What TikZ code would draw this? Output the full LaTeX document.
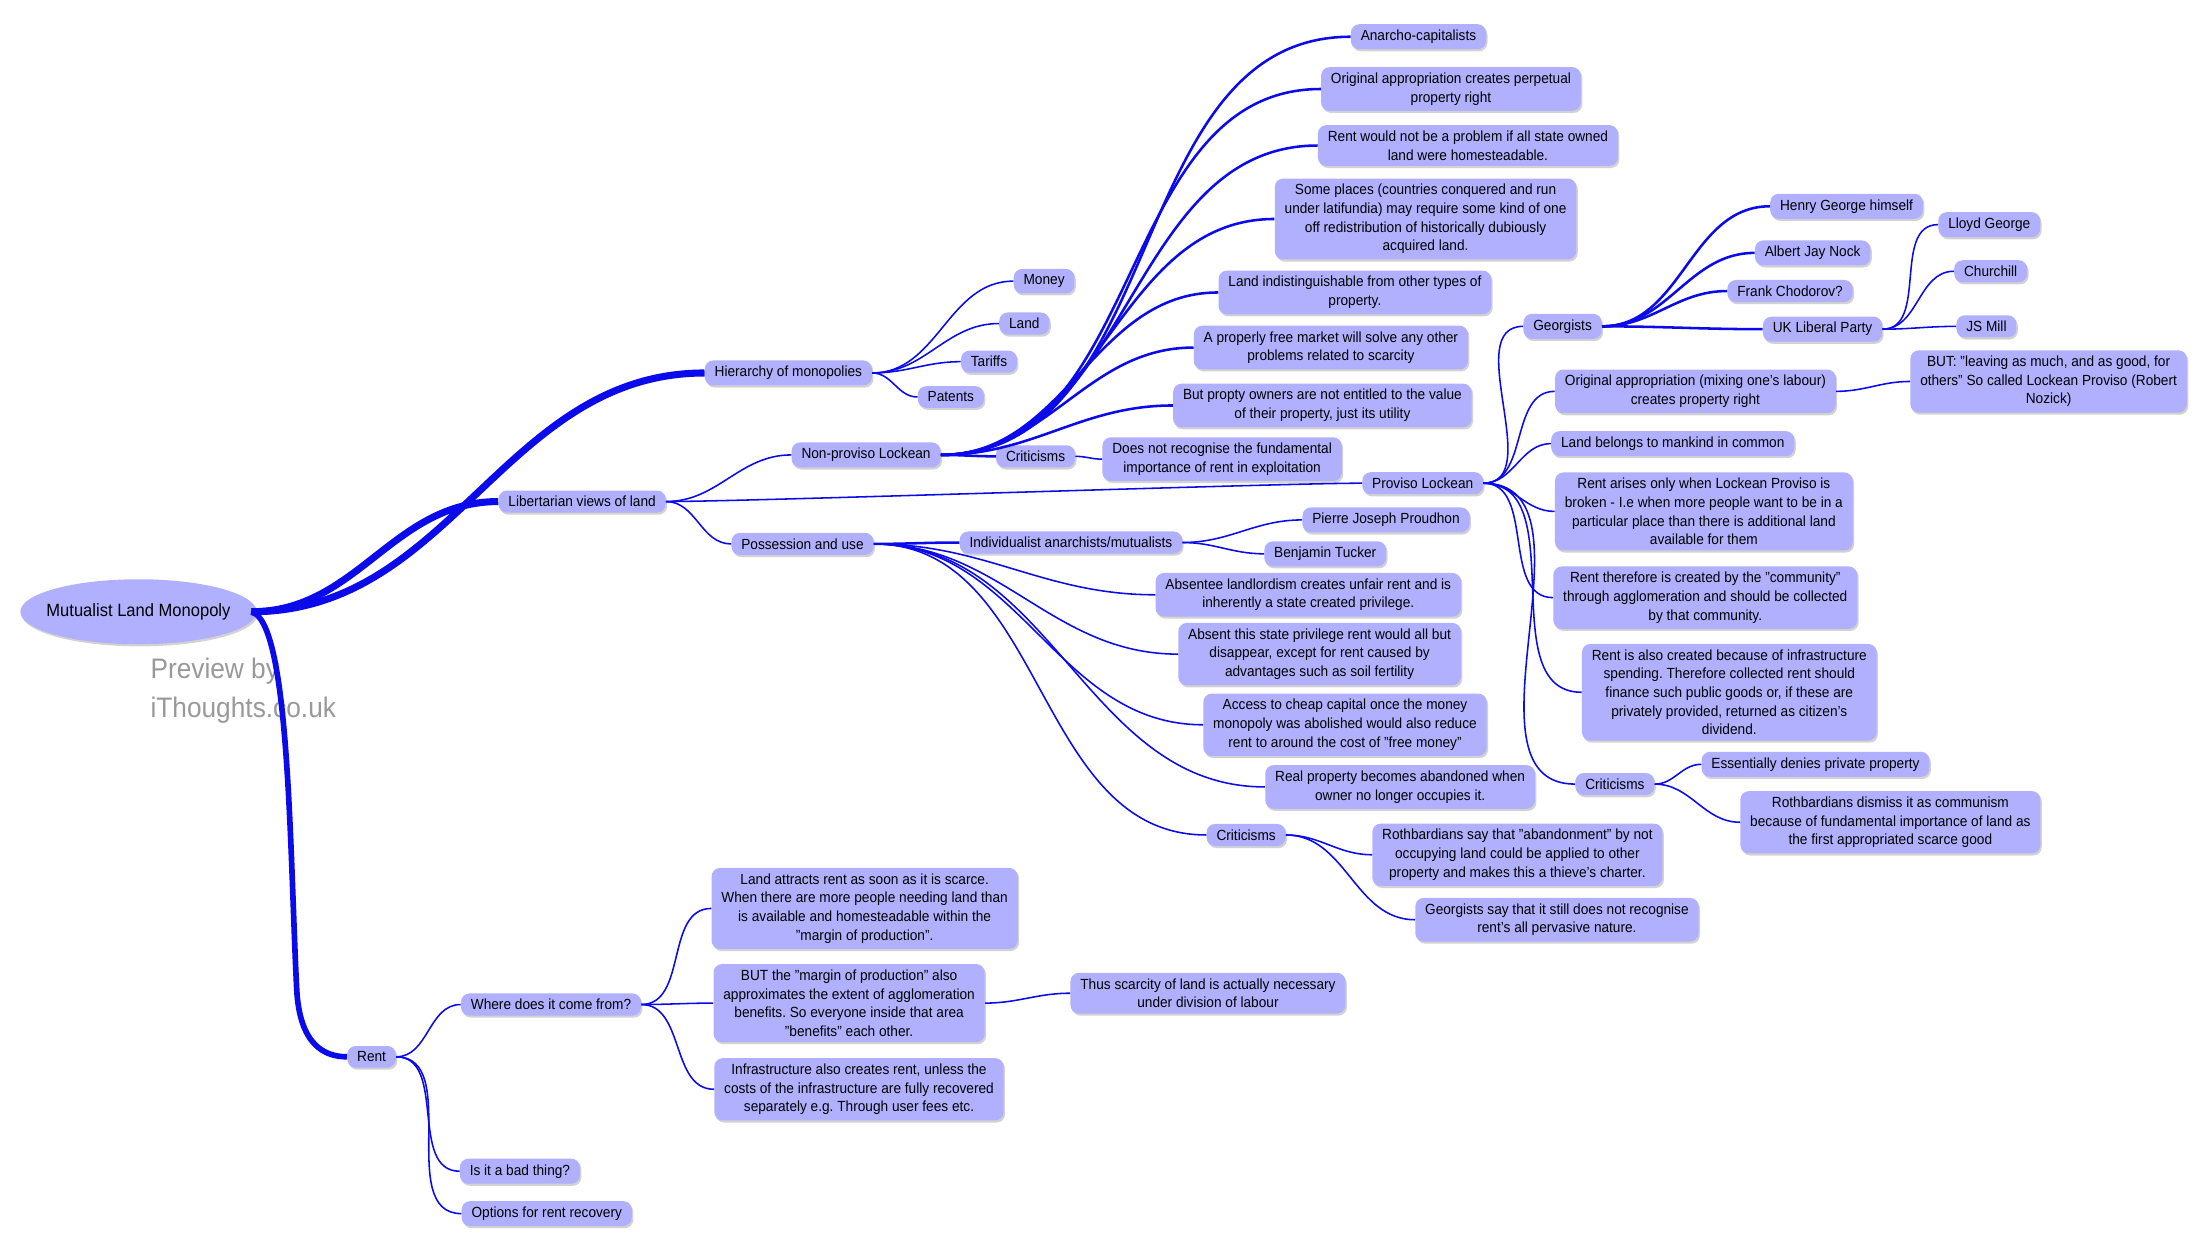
\documentclass[tikz,border=0pt]{standalone}
\usepackage{fontspec}
\setmainfont{Liberation Sans}[FakeStretch=0.93]
\frenchspacing
\usetikzlibrary{shadows,shapes.geometric}
\definecolor{nodefill}{RGB}{176,176,255}
\definecolor{edgeblue}{RGB}{10,10,235}
\tikzset{
  tn/.style={fill=nodefill,rounded corners=6pt,drop shadow={shadow xshift=1pt,shadow yshift=-1.5pt,opacity=0.35},
    font=\fontsize{10.4}{13.2}\selectfont,align=center,inner xsep=7pt,inner ysep=4pt},
  e/.style={draw=edgeblue,line width=1.1pt,out=0,in=180},
  eb/.style={draw=edgeblue,line width=1.8pt,out=0,in=180},
  er/.style={draw=edgeblue,line width=5pt,out=0,in=180},
}
\begin{document}
\begin{tikzpicture}[x=1pt,y=-1pt]
\useasboundingbox (0,0) rectangle (1560,882);
\fill[white] (0,0) rectangle (1560,882);
% watermark
\node[anchor=north west,text=black!40,font=\fontsize{20}{28}\selectfont,align=left] (wm) at (103,462) {Preview by\\iThoughts.co.uk};
% root
\node[ellipse,fill=nodefill,minimum width=166pt,minimum height=46pt,inner xsep=-6pt,inner ysep=0pt,font=\fontsize{12.6}{13}\selectfont,drop shadow={shadow xshift=1pt,shadow yshift=-1.5pt,opacity=0.35}] (root) at (98,433) {Mutualist Land Monopoly};
% level 1
\node[tn] (hier) at (558,264) {Hierarchy of monopolies};
\node[tn] (lib) at (412,355) {Libertarian views of land};
\node[tn] (rent) at (263,748) {Rent};
% hierarchy
\node[tn] (money) at (739,199) {Money};
\node[tn] (land) at (725,229) {Land};
\node[tn] (tariffs) at (700,256) {Tariffs};
\node[tn] (patents) at (673,281) {Patents};
% libertarian
\node[tn] (npl) at (613,322) {Non-proviso Lockean};
\node[tn] (pl) at (1007,342) {Proviso Lockean};
\node[tn] (pos) at (568,385) {Possession and use};
% non-proviso
\node[tn] (npc1) at (865,325) {Does not recognise the fundamental\\importance of rent in exploitation};
\node[tn] (npc) at (733,323) {Criticisms};
\node[tn] (n1) at (1004,26) {Anarcho-capitalists};
\node[tn] (n2) at (1027,63) {Original appropriation creates perpetual\\property right};
\node[tn] (n3) at (1039,103) {Rent would not be a problem if all state owned\\land were homesteadable.};
\node[tn] (n4) at (1009,155) {Some places (countries conquered and run\\under latifundia) may require some kind of one\\off redistribution of historically dubiously\\acquired land.};
\node[tn] (n5) at (959,207) {Land indistinguishable from other types of\\property.};
\node[tn] (n6) at (942,246) {A properly free market will solve any other\\problems related to scarcity};
\node[tn] (n7) at (936,287) {But propty owners are not entitled to the value\\of their property, just its utility};
% proviso
\node[tn] (geo) at (1106,231) {Georgists};
\node[tn] (hg) at (1307,146) {Henry George himself};
\node[tn] (ajn) at (1283,179) {Albert Jay Nock};
\node[tn] (fc) at (1267,206) {Frank Chodorov?};
\node[tn] (ukl) at (1290,233) {UK Liberal Party};
\node[tn] (lg) at (1408,159) {Lloyd George};
\node[tn] (ch) at (1409,192) {Churchill};
\node[tn] (jsm) at (1406,231) {JS Mill};
\node[tn] (p1) at (1200,277) {Original appropriation (mixing one's labour)\\creates property right};
\node[tn] (p1a) at (1450,270) {BUT: "leaving as much, and as good, for\\others" So called Lockean Proviso (Robert\\Nozick)};
\node[tn] (p2) at (1184,314) {Land belongs to mankind in common};
\node[tn] (p3) at (1206,362) {Rent arises only when Lockean Proviso is\\broken - I.e when more people want to be in a\\particular place than there is additional land\\available for them};
\node[tn] (p4) at (1207,423) {Rent therefore is created by the "community"\\through agglomeration and should be collected\\by that community.};
\node[tn] (p5) at (1224,490) {Rent is also created because of infrastructure\\spending. Therefore collected rent should\\finance such public goods or, if these are\\privately provided, returned as citizen's\\dividend.};
\node[tn] (pc) at (1143,555) {Criticisms};
\node[tn] (pc1) at (1285,541) {Essentially denies private property};
\node[tn] (pc2) at (1338,582) {Rothbardians dismiss it as communism\\because of fundamental importance of land as\\the first appropriated scarce good};
% possession
\node[tn] (ind) at (758,384) {Individualist anarchists/mutualists};
\node[tn] (pjp) at (981,368) {Pierre Joseph Proudhon};
\node[tn] (bt) at (938,392) {Benjamin Tucker};
\node[tn] (a1) at (926,421) {Absentee landlordism creates unfair rent and is\\inherently a state created privilege.};
\node[tn] (a2) at (934,463) {Absent this state privilege rent would all but\\disappear, except for rent caused by\\advantages such as soil fertility};
\node[tn] (a3) at (952,513) {Access to cheap capital once the money\\monopoly was abolished would also reduce\\rent to around the cost of "free money"};
\node[tn] (a4) at (991,557) {Real property becomes abandoned when\\owner no longer occupies it.};
\node[tn] (ac) at (882,591) {Criticisms};
\node[tn] (ac1) at (1074,605) {Rothbardians say that "abandonment" by not\\occupying land could be applied to other\\property and makes this a thieve's charter.};
\node[tn] (ac2) at (1102,651) {Georgists say that it still does not recognise\\rent's all pervasive nature.};
% rent
\node[tn] (r1) at (612,643) {Land attracts rent as soon as it is scarce.\\When there are more people needing land than\\is available and homesteadable within the\\"margin of production".};
\node[tn] (r2) at (601,710) {BUT the "margin of production" also\\approximates the extent of agglomeration\\benefits. So everyone inside that area\\"benefits" each other.};
\node[tn] (r2a) at (855,703) {Thus scarcity of land is actually necessary\\under division of labour};
\node[tn] (r3) at (608,771) {Infrastructure also creates rent, unless the\\costs of the infrastructure are fully recovered\\separately e.g. Through user fees etc.};
\node[tn] (wd) at (390,711) {Where does it come from?};
\node[tn] (bad) at (368,829) {Is it a bad thing?};
\node[tn] (opt) at (387,859) {Options for rent recovery};
% edges root
\coordinate (rs) at (178,433);
\draw[er] (rs) to[out=0,in=180] (hier.west);
\draw[er] (rs) to[out=0,in=180] (lib.west);
\draw[draw=edgeblue,line width=4pt] (rs) .. controls (205,440) and (205,600) .. (210,700) .. controls (212,740) and (230,748) .. (rent.west);
% hierarchy
\foreach \c in {money,land,tariffs,patents} \draw[e] (hier.east) to (\c.west);
% libertarian
\draw[e] (lib.east) to (npl.west);
\draw[e] (lib.east) to[out=0,in=180,looseness=0.3] (pl.west);
\draw[e] (lib.east) to (pos.west);
% non-proviso
\foreach \c in {n1,n2,n3,n4,n5,n6,n7} \draw[eb] (npl.east) to (\c.west);
\draw[eb] (npl.east) to (npc.west);
\draw[e] (npc.east) to (npc1.west);
% proviso
\foreach \c in {geo,p1,p2,p3,p4,p5,pc} \draw[e] (pl.east) to (\c.west);
\foreach \c in {hg,ajn,fc,ukl} \draw[eb] (geo.east) to (\c.west);
\foreach \c in {lg,ch,jsm} \draw[e] (ukl.east) to (\c.west);
\draw[e] (p1.east) to (p1a.west);
\draw[e] (pc.east) to (pc1.west);
\draw[e] (pc.east) to (pc2.west);
% possession
\draw[eb] (pos.east) to (ind.west);
\foreach \c in {a1,a2,a3,a4,ac} \draw[e] (pos.east) to (\c.west);
\draw[e] (ind.east) to (pjp.west);
\draw[e] (ind.east) to (bt.west);
\draw[e] (ac.east) to (ac1.west);
\draw[e] (ac.east) to (ac2.west);
% rent
\draw[e] (rent.east) to (wd.west);
\draw[e] (rent.east) to (bad.west);
\draw[e] (rent.east) to (opt.west);
\draw[e] (wd.east) to (r1.west);
\draw[e] (wd.east) to (r2.west);
\draw[e] (wd.east) to (r3.west);
\draw[e] (r2.east) to (r2a.west);
\end{tikzpicture}
\end{document}
